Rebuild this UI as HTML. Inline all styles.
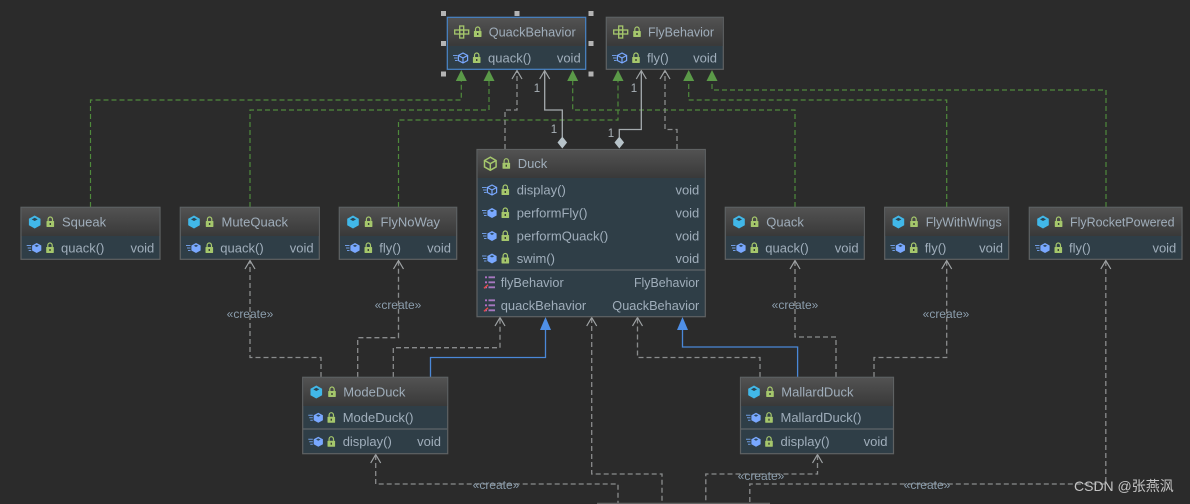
<!DOCTYPE html>
<html><head><meta charset="utf-8"><style>
html,body{margin:0;padding:0;background:#2b2b2b;width:1190px;height:504px;overflow:hidden}
svg{display:block;position:absolute;left:0;top:0;filter:blur(.35px)}
text{font-family:"Liberation Sans","Noto Sans CJK SC",sans-serif;font-size:13px;fill:#a0aebb;dominant-baseline:central}
.r{text-anchor:end}
.c{font-size:12px;text-anchor:middle;fill:#8b9dac}
.o{font-size:11.5px;fill:#a9b2b8;text-anchor:middle}
.d{fill:none;stroke:#8a8c8d;stroke-width:1.3;stroke-dasharray:5 3}
.s{fill:none;stroke:#a5abae;stroke-width:1.3}
.g{fill:none;stroke:#4f8a3c;stroke-width:1.2;stroke-dasharray:5 3}
.b{fill:none;stroke:#4a88d8;stroke-width:1.3}
.a{fill:none;stroke:#a0a4a6;stroke-width:1.2}
.box{fill:#2f3e47;stroke:#5f6263;stroke-width:1.2}
.sep{stroke:#5f6669;stroke-width:1.2}
</style></head><body>
<svg width="1190" height="504" viewBox="0 0 1190 504" xmlns="http://www.w3.org/2000/svg">
<defs>
<linearGradient id="h" x1="0" y1="0" x2="0" y2="1"><stop offset="0" stop-color="#525252"/><stop offset="1" stop-color="#393939"/></linearGradient>
<g id="lock"><path d="M-2.2,-1 V-2.6 A2.2,2.4 0 0 1 2.2,-2.6 V-1" fill="none" stroke="#a5c76c" stroke-width="1.2"/><rect x="-3.8" y="-1" width="7.6" height="6" rx=".6" fill="#a5c76c"/><rect x="-.7" y="1" width="1.4" height="2" fill="#3a3f32"/></g>
<g id="cls"><path d="M0,-6.5 L5.8,-3.2 V3.2 L0,6.5 L-5.8,3.2 V-3.2Z" fill="#41b7e8"/><path d="M-3,-2.6 L0,-4.2 L3,-2.6 L0,-1Z" fill="#2b4653"/></g>
<g id="clsA"><path d="M0,-6.5 L5.8,-3.2 V3.2 L0,6.5 L-5.8,3.2 V-3.2Z M-5.8,-3.2 L0,0 L5.8,-3.2 M0,0 V6.5" fill="none" stroke="#a5c76c" stroke-width="1.5"/></g>
<g id="m"><path d="M0,-5 L4.6,-2.5 V2.5 L0,5 L-4.6,2.5 V-2.5Z" fill="#79a8ff"/><path d="M-2.2,-2.2 L0,-3.3 L2.2,-2.2 L0,-1Z" fill="#2d4a60"/><path d="M-10,-2.5 H-5.5 M-9,0 H-5.5 M-8,2.5 H-5.5" stroke="#6f9be0" stroke-width="1"/></g>
<g id="mA"><path d="M0,-5 L4.6,-2.5 V2.5 L0,5 L-4.6,2.5 V-2.5Z M-4.6,-2.5 L0,0 L4.6,-2.5 M0,0 V5" fill="none" stroke="#79a8ff" stroke-width="1.2"/><path d="M-10,-2.5 H-5.5 M-9,0 H-5.5 M-8,2.5 H-5.5" stroke="#6f9be0" stroke-width="1"/></g>
<g id="iface" fill="none" stroke="#a5c76c" stroke-width="1.3"><rect x="-7" y="-2" width="5" height="4"/><rect x="-2" y="-2" width="4" height="4"/><rect x="2" y="-2" width="5" height="4"/><rect x="-2" y="-6" width="4" height="4"/><rect x="-2" y="2" width="4" height="4"/></g>
<g id="fld"><path d="M-4,-5 H-2 M-4,0 H-2 M-4,5 H-2" stroke="#b06fc4" stroke-width="1.8"/><path d="M-.5,-5 H6 M-.5,0 H6 M-.5,5 H6" stroke="#a678c0" stroke-width="1.8"/><path d="M-5,6 L-1,2.5" stroke="#e04a4a" stroke-width="1.5"/></g>
<path id="up" class="a" d="M-5,9 L0,.5 L5,9"/>
<path id="tg" d="M0,0 L5.5,11 H-5.5Z" fill="#5b9a48"/>
<path id="tb" d="M0,0 L5.5,13 H-5.5Z" fill="#4f8fe6"/>
<path id="dm" d="M0,0 L4.8,6 L0,12 L-4.8,6Z" fill="#b7c3c9"/>
</defs>

<!-- green realizations -->
<path class="g" d="M90.5,207 V100 H461.3 V81"/>
<path class="g" d="M250,207 V110 H489 V81"/>
<path class="g" d="M398.5,207 V120 H618 V81"/>
<path class="g" d="M795,207 V110 H572.7 V81"/>
<path class="g" d="M946.7,207 V100 H688.7 V81"/>
<path class="g" d="M1106,207 V90 H712 V81"/>
<use href="#tg" x="461.3" y="70"/><use href="#tg" x="489" y="70"/><use href="#tg" x="572.7" y="70"/>
<use href="#tg" x="618" y="70"/><use href="#tg" x="688.7" y="70"/><use href="#tg" x="712" y="70"/>

<!-- Duck to interfaces -->
<path class="d" d="M505,149 V110 H517 V71"/><use href="#up" x="517" y="70"/>
<path class="d" d="M677,149 V129.5 H665 V71"/><use href="#up" x="665" y="70"/>
<path class="s" d="M562.3,137 V110 H544.7 V71"/><use href="#up" x="544.7" y="70"/>
<path class="s" d="M619.3,137 V129.5 H641.3 V71"/><use href="#up" x="641.3" y="70"/>
<use href="#dm" x="562.3" y="136.5"/><use href="#dm" x="619.3" y="136.5"/>
<text class="o" x="537" y="89">1</text><text class="o" x="554" y="130">1</text>
<text class="o" x="634" y="89">1</text><text class="o" x="611" y="134">1</text>

<!-- ModeDuck connectors -->
<path class="d" d="M321,377 V357.5 H250 V261"/><use href="#up" x="250" y="260"/>
<path class="d" d="M357.7,377 V337.7 H398.5 V261"/><use href="#up" x="398.5" y="260"/>
<path class="d" d="M393.3,377 V347.7 H500 V318"/><use href="#up" x="500" y="317"/>
<path class="b" d="M430.5,377 V357.5 H545.5 V329"/><use href="#tb" x="545.5" y="317"/>
<path class="d" d="M375.7,455 V484 H618 V503"/><use href="#up" x="375.7" y="454"/>

<!-- MallardDuck connectors -->
<path class="d" d="M760,377 V357.5 H637.5 V318"/><use href="#up" x="637.5" y="317"/>
<path class="b" d="M797.6,377 V347 H682.5 V329"/><use href="#tb" x="682.5" y="317"/>
<path class="d" d="M836,377 V337 H795 V261"/><use href="#up" x="795" y="260"/>
<path class="d" d="M874,377 V357.5 H946.7 V261"/><use href="#up" x="946.7" y="260"/>
<path class="d" d="M817.5,455 V474 H705.8 V503"/><use href="#up" x="817.5" y="454"/>
<path class="d" d="M1105.8,261 V484 H749.8 V503"/><use href="#up" x="1105.8" y="260"/>
<path class="d" d="M591.7,318 V474 H662 V503"/><use href="#up" x="591.7" y="317"/>
<path d="M597,503.5 H770" stroke="#666" stroke-width="1.5"/>

<!-- create labels -->
<text class="c" x="250" y="314">«create»</text>
<text class="c" x="398" y="305">«create»</text>
<text class="c" x="795" y="305">«create»</text>
<text class="c" x="946" y="314">«create»</text>
<text class="c" x="496" y="485">«create»</text>
<text class="c" x="761" y="476">«create»</text>
<text class="c" x="927" y="485">«create»</text>

<!-- QuackBehavior -->
<rect class="box" x="447.3" y="17.3" width="138.4" height="52" style="stroke:#4a86c8"/>
<rect x="448" y="18" width="137" height="28" fill="url(#h)"/>
<use href="#iface" x="461.7" y="32"/><use href="#lock" x="477.7" y="32"/><text x="488.7" y="32" textLength="87" lengthAdjust="spacingAndGlyphs">QuackBehavior</text>
<use href="#mA" x="463" y="58"/><use href="#lock" x="476.7" y="58"/><text x="488" y="58">quack()</text><text class="r" x="580.7" y="58">void</text>
<g fill="#b4b4b4"><rect x="441" y="11" width="5" height="5"/><rect x="514.5" y="11" width="5" height="5"/><rect x="588.5" y="11" width="5" height="5"/><rect x="441" y="41" width="5" height="5"/><rect x="588.5" y="41" width="5" height="5"/><rect x="441" y="71.5" width="5" height="5"/><rect x="588.5" y="71.5" width="5" height="5"/></g>

<!-- FlyBehavior -->
<rect class="box" x="606.3" y="17.3" width="117" height="52"/>
<rect x="607" y="18" width="115.7" height="28" fill="url(#h)"/>
<use href="#iface" x="620.7" y="32"/><use href="#lock" x="637" y="32"/><text x="648" y="32" textLength="66" lengthAdjust="spacingAndGlyphs">FlyBehavior</text>
<use href="#mA" x="622" y="58"/><use href="#lock" x="636" y="58"/><text x="647" y="58">fly()</text><text class="r" x="717" y="58">void</text>

<!-- Duck -->
<rect class="box" x="477" y="149.5" width="228.3" height="167.2"/>
<rect x="477.6" y="150" width="227" height="28" fill="url(#h)"/>
<use href="#clsA" x="490.3" y="163.7"/><use href="#lock" x="506.3" y="163.7"/><text x="517.7" y="163.7">Duck</text>
<use href="#mA" x="492" y="190"/><use href="#lock" x="505.3" y="190"/><text x="516.7" y="190">display()</text><text class="r" x="699.3" y="190">void</text>
<use href="#m" x="492" y="213"/><use href="#lock" x="505.3" y="213"/><text x="516.7" y="213">performFly()</text><text class="r" x="699.3" y="213">void</text>
<use href="#m" x="492" y="236"/><use href="#lock" x="505.3" y="236"/><text x="516.7" y="236" textLength="91.5" lengthAdjust="spacingAndGlyphs">performQuack()</text><text class="r" x="699.3" y="236">void</text>
<use href="#m" x="492" y="258.5"/><use href="#lock" x="505.3" y="258.5"/><text x="516.7" y="258.5">swim()</text><text class="r" x="699.3" y="258.5">void</text>
<line class="sep" x1="477" x2="705" y1="270" y2="270"/>
<use href="#fld" x="489" y="282.3"/><text x="500.7" y="282.3" textLength="63" lengthAdjust="spacingAndGlyphs">flyBehavior</text><text x="634" y="282.3" textLength="65.3" lengthAdjust="spacingAndGlyphs">FlyBehavior</text>
<use href="#fld" x="489" y="305.3"/><text x="500.7" y="305.3" textLength="85.5" lengthAdjust="spacingAndGlyphs">quackBehavior</text><text x="612.3" y="305.3" textLength="87" lengthAdjust="spacingAndGlyphs">QuackBehavior</text>

<!-- Squeak -->
<rect class="box" x="21" y="207.3" width="139" height="52"/>
<rect x="21.6" y="208" width="137.8" height="28" fill="url(#h)"/>
<use href="#cls" x="34.7" y="222"/><use href="#lock" x="50.3" y="222"/><text x="62" y="222">Squeak</text>
<use href="#m" x="36.7" y="248"/><use href="#lock" x="50" y="248"/><text x="61" y="248">quack()</text><text class="r" x="154.3" y="248">void</text>

<!-- MuteQuack -->
<rect class="box" x="180.3" y="207.3" width="139" height="52"/>
<rect x="181" y="208" width="137.8" height="28" fill="url(#h)"/>
<use href="#cls" x="194" y="222"/><use href="#lock" x="209.6" y="222"/><text x="221.5" y="222">MuteQuack</text>
<use href="#m" x="196" y="248"/><use href="#lock" x="209.3" y="248"/><text x="220.3" y="248">quack()</text><text class="r" x="313.6" y="248">void</text>

<!-- FlyNoWay -->
<rect class="box" x="339.3" y="207.3" width="117.4" height="52"/>
<rect x="340" y="208" width="116" height="28" fill="url(#h)"/>
<use href="#cls" x="353" y="222"/><use href="#lock" x="368.6" y="222"/><text x="380.5" y="222">FlyNoWay</text>
<use href="#m" x="355" y="248"/><use href="#lock" x="368.3" y="248"/><text x="379.3" y="248">fly()</text><text class="r" x="451" y="248">void</text>

<!-- Quack -->
<rect class="box" x="725.3" y="207.3" width="139" height="52"/>
<rect x="726" y="208" width="137.8" height="28" fill="url(#h)"/>
<use href="#cls" x="739" y="222"/><use href="#lock" x="754.6" y="222"/><text x="766.3" y="222">Quack</text>
<use href="#m" x="741" y="248"/><use href="#lock" x="754.3" y="248"/><text x="765.3" y="248">quack()</text><text class="r" x="858.6" y="248">void</text>

<!-- FlyWithWings -->
<rect class="box" x="884.7" y="207.3" width="124" height="52"/>
<rect x="885.3" y="208" width="122.8" height="28" fill="url(#h)"/>
<use href="#cls" x="898.4" y="222"/><use href="#lock" x="914" y="222"/><text x="925.7" y="222" textLength="76" lengthAdjust="spacingAndGlyphs">FlyWithWings</text>
<use href="#m" x="900.4" y="248"/><use href="#lock" x="913.7" y="248"/><text x="924.7" y="248">fly()</text><text class="r" x="1003" y="248">void</text>

<!-- FlyRocketPowered -->
<rect class="box" x="1029.3" y="207.3" width="152.7" height="52"/>
<rect x="1030" y="208" width="151.4" height="28" fill="url(#h)"/>
<use href="#cls" x="1043" y="222"/><use href="#lock" x="1058.6" y="222"/><text x="1070" y="222" textLength="104.5" lengthAdjust="spacingAndGlyphs">FlyRocketPowered</text>
<use href="#m" x="1045" y="248"/><use href="#lock" x="1058.3" y="248"/><text x="1069" y="248">fly()</text><text class="r" x="1176.3" y="248">void</text>

<!-- ModeDuck -->
<rect class="box" x="302.7" y="377.3" width="145" height="76.4"/>
<rect x="303.3" y="378" width="143.8" height="28" fill="url(#h)"/>
<use href="#cls" x="316.3" y="392"/><use href="#lock" x="332" y="392"/><text x="343.3" y="392">ModeDuck</text>
<use href="#m" x="318.3" y="417.7"/><use href="#lock" x="331.3" y="417.7"/><text x="342.7" y="417.7">ModeDuck()</text>
<line class="sep" x1="303" x2="447" y1="429" y2="429"/>
<use href="#m" x="318.3" y="441.7"/><use href="#lock" x="331.3" y="441.7"/><text x="342.7" y="441.7">display()</text><text class="r" x="441" y="441.7">void</text>

<!-- MallardDuck -->
<rect class="box" x="740.5" y="377.3" width="153" height="76.4"/>
<rect x="741.1" y="378" width="151.8" height="28" fill="url(#h)"/>
<use href="#cls" x="754" y="392"/><use href="#lock" x="770" y="392"/><text x="781.3" y="392">MallardDuck</text>
<use href="#m" x="756" y="417.7"/><use href="#lock" x="769" y="417.7"/><text x="780.5" y="417.7">MallardDuck()</text>
<line class="sep" x1="741" x2="893" y1="429" y2="429"/>
<use href="#m" x="756" y="441.7"/><use href="#lock" x="769" y="441.7"/><text x="780.5" y="441.7">display()</text><text class="r" x="887.5" y="441.7">void</text>

<text x="1074" y="486" style="font-size:14px;fill:#c4c4c4">CSDN @张燕沨</text>
</svg>
</body></html>
